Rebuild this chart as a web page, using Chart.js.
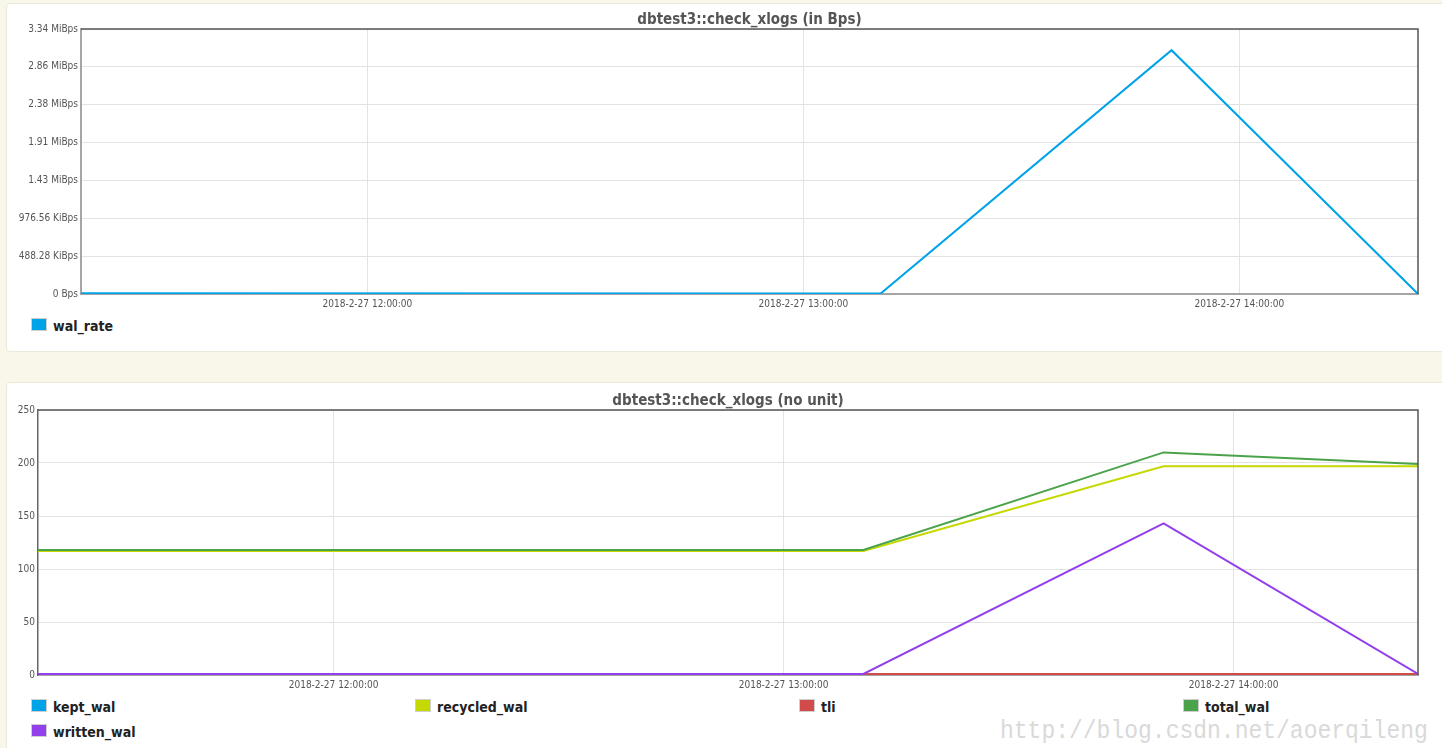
<!DOCTYPE html>
<html>
<head>
<meta charset="utf-8">
<script src="https://cdn.jsdelivr.net/npm/chart.js@4"></script>
<style>
  body { margin: 0; width: 1442px; height: 748px; overflow: hidden; position: relative; background: #f9f6ea; font-family: "DejaVu Sans Condensed", "DejaVu Sans", sans-serif; }
  .panel { position: absolute; left: 6px; width: 1460px; background: #fff; border: 1px solid #ede9da; border-radius: 4px; }
  canvas { position: absolute; }
  .item { position: absolute; font-size: 14px; font-weight: bold; color: #222; line-height: 16px; height: 16px; white-space: nowrap; }
  .item span.box { position: absolute; left: 0; top: 0; width: 14px; height: 11px; border: 1px solid #cfcfcf; }
  .item span.txt { position: absolute; left: 22px; top: 0; }
  #mark { position: absolute; left: 1000px; top: 718px; font-family: "Liberation Mono", monospace; font-size: 23px; color: #d9d9d9; transform: scaleY(1.15); white-space: nowrap; }
</style>
</head>
<body>
<div class="panel" style="top:3px;height:347px"></div>
<div class="panel" style="top:382px;height:400px"></div>
<canvas id="rate" width="1436" height="310" style="left:6px;top:4px;width:1436px;height:310px"></canvas>
<canvas id="count" width="1436" height="312" style="left:6px;top:383px;width:1436px;height:312px"></canvas>
<div id="legend1"></div>
<div id="legend2"></div>
<div id="mark">http://blog.csdn.net/aoerqileng</div>
<script>
  // ===== data =====
  const day = "2018-2-27";
  const times = ["11:20:35", "13:10:38", "13:50:40", "14:24:35"];
  const hourTicks = ["12:00:00", "13:00:00", "14:00:00"];

  const walRate = [9000, 6000, 3220000, 0];

  const keptWal = [0, 0, 0, 0];
  const recycledWal = [117, 117, 197, 197];
  const tli = [1, 1, 1, 1];
  const totalWal = [118, 118, 210, 199];
  const writtenWal = [1, 1, 143, 1];

  const FONT = "'DejaVu Sans Condensed', 'DejaVu Sans', sans-serif";

  function toSec(t) {
    const p = t.split(":").map(Number);
    return p[0] * 3600 + p[1] * 60 + p[2];
  }
  function pad(n) { return n < 10 ? "0" + n : "" + n; }
  function fmtTime(s) {
    return day + " " + pad(Math.floor(s / 3600)) + ":" + pad(Math.floor(s / 60) % 60) + ":" + pad(s % 60);
  }
  function fmtBytes(v) {
    if (v === 0) return "0 Bps";
    if (v < 1048576) return (v / 1024).toFixed(2) + " KiBps";
    return (v / 1048576).toFixed(2) + " MiBps";
  }
  function points(vals) {
    return vals.map((v, i) => ({ x: toSec(times[i]), y: v }));
  }

  const frame = {
    id: "frame",
    afterDraw(chart) {
      const { ctx, chartArea: a } = chart;
      ctx.save();
      ctx.strokeStyle = "#555";
      ctx.lineWidth = 1.5;
      ctx.beginPath();
      ctx.moveTo(a.left, a.top);
      ctx.lineTo(a.right, a.top);
      ctx.lineTo(a.right, a.bottom);
      ctx.stroke();
      ctx.restore();
    },
  };

  function xScale() {
    return {
      type: "linear",
      min: toSec(times[0]),
      max: toSec(times[times.length - 1]),
      afterBuildTicks: (s) => { s.ticks = hourTicks.map((t) => ({ value: toSec(t) })); },
      afterFit: (s) => { s.height = 20; },
      grid: { color: "#e3e3e3", drawTicks: false },
      border: { color: "#a5a5a5", width: 2 },
      ticks: {
        color: "#555",
        padding: 4,
        maxRotation: 0,
        font: { family: FONT, size: 10 },
        callback: (v) => fmtTime(v),
      },
    };
  }

  function lineSet(label, vals, color, i) {
    return {
      label: label,
      data: points(vals),
      borderColor: color,
      backgroundColor: color,
      borderWidth: 2,
      pointRadius: 0,
      fill: false,
      tension: 0,
      order: 10 - i,
    };
  }

  const rate = document.getElementById("rate");
  const rateChart = new Chart(rate, {
    type: "line",
    plugins: [frame],
    data: {
      datasets: [lineSet("wal_rate", walRate, "#00a3e8", 0)],
    },
    options: {
      responsive: false,
      animation: false,
      layout: { padding: { left: 0, right: 24, top: 0, bottom: 0 } },
      scales: {
        x: xScale(),
        y: {
          min: 0,
          max: 3500000,
          afterFit: (s) => { s.width = 75; },
          grid: { color: "#e3e3e3", drawTicks: false },
          border: { color: "#a5a5a5", width: 2 },
          ticks: {
            stepSize: 500000,
            color: "#555",
            padding: 3,
            font: { family: FONT, size: 10 },
            callback: (v) => fmtBytes(v),
          },
        },
      },
      plugins: {
        legend: { display: false },
        tooltip: { enabled: false },
        title: {
          display: true,
          fullSize: false,
          text: "dbtest3::check_xlogs (in Bps)",
          color: "#555",
          font: { family: FONT, size: 15, weight: "bold" },
          padding: { top: 7, bottom: 0 },
        },
      },
    },
  });

  const count = document.getElementById("count");
  const countChart = new Chart(count, {
    type: "line",
    plugins: [frame],
    data: {
      datasets: [
        lineSet("kept_wal", keptWal, "#00a3e8", 0),
        lineSet("recycled_wal", recycledWal, "#c5d800", 1),
        lineSet("tli", tli, "#d24b4b", 2),
        lineSet("total_wal", totalWal, "#4aa34a", 3),
        lineSet("written_wal", writtenWal, "#9240ec", 4),
      ],
    },
    options: {
      responsive: false,
      animation: false,
      layout: { padding: { left: 0, right: 24, top: 0, bottom: 0 } },
      scales: {
        x: xScale(),
        y: {
          min: 0,
          max: 250,
          afterFit: (s) => { s.width = 32; },
          grid: { color: "#e3e3e3", drawTicks: false },
          border: { color: "#666", width: 1.5 },
          ticks: {
            stepSize: 50,
            color: "#555",
            padding: 3,
            font: { family: FONT, size: 10 },
          },
        },
      },
      plugins: {
        legend: { display: false },
        tooltip: { enabled: false },
        title: {
          display: true,
          fullSize: false,
          text: "dbtest3::check_xlogs (no unit)",
          color: "#555",
          font: { family: FONT, size: 15, weight: "bold" },
          padding: { top: 9, bottom: 0 },
        },
      },
    },
  });

  // html legends, four columns like the original page
  function buildLegend(chart, el, left, top) {
    chart.data.datasets.forEach((ds, i) => {
      const item = document.createElement("div");
      item.className = "item";
      item.style.left = left + (i % 4) * 384 + "px";
      item.style.top = top + Math.floor(i / 4) * 25 + "px";
      const box = document.createElement("span");
      box.className = "box";
      box.style.background = ds.borderColor;
      const txt = document.createElement("span");
      txt.className = "txt";
      txt.textContent = ds.label;
      item.appendChild(box);
      item.appendChild(txt);
      el.appendChild(item);
    });
  }
  buildLegend(rateChart, document.getElementById("legend1"), 31, 318);
  buildLegend(countChart, document.getElementById("legend2"), 31, 699);
</script>
</body>
</html>
